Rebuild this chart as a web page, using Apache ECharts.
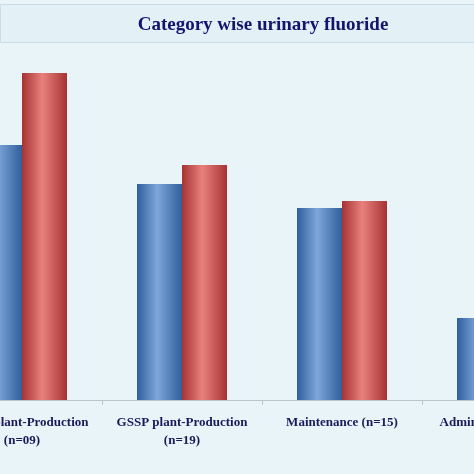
<!DOCTYPE html>
<html><head><meta charset="utf-8">
<script src="https://cdn.jsdelivr.net/npm/echarts@6/dist/echarts.min.js"></script>
<style>html,body{margin:0;padding:0;background:#fff}#c{width:474px;height:474px}</style>
</head><body><div id="c"></div>
<script>
var categories = ["CCPP plant-Production\n(n=09)", "GSSP plant-Production\n(n=19)", "Maintenance (n=15)", "Administration (n=10)"];
var blueValues = [2.55, 2.16, 1.92, 0.82];
var redValues = [3.27, 2.35, 1.99, 1.05];

function cyl(dark, light) {
  return new echarts.graphic.LinearGradient(0, 0, 1, 0, [
    { offset: 0, color: dark }, { offset: 0.45, color: light }, { offset: 1, color: dark }
  ]);
}

var chart = echarts.init(document.getElementById("c"));
chart.setOption({
  animation: false,
  backgroundColor: "#e9f4f8",
  graphic: [{
    type: "rect", left: 0, top: 4, shape: { width: 474, height: 38 },
    style: { fill: "#e3f0f6", stroke: "#c9dde6", lineWidth: 1 }
  }],
  title: {
    text: "Category wise urinary fluoride", left: 258, top: 11, textAlign: "center",
    textStyle: { fontFamily: "Liberation Serif", fontSize: 19, fontWeight: "bold", color: "#14146e" }
  },
  grid: { left: -58, right: -108, top: 50, bottom: 74, containLabel: false, outerBoundsMode: "none" },
  xAxis: {
    type: "category", data: categories,
    axisLine: { lineStyle: { color: "#b9c6cc" } },
    axisTick: { show: true, length: 5, lineStyle: { color: "#b9c6cc" } },
    axisLabel: {
      interval: 0, margin: 14, lineHeight: 18,
      fontFamily: "Liberation Serif", fontSize: 13, fontWeight: "bold", color: "#1a1a5a"
    }
  },
  yAxis: { type: "value", min: 0, max: 3.5, show: false, splitLine: { show: false } },
  series: [
    { type: "bar", data: blueValues, barWidth: 45, barGap: "0%", itemStyle: { color: cyl("#2f5f9e", "#7ea6d9") } },
    { type: "bar", data: redValues, barWidth: 45, itemStyle: { color: cyl("#a53333", "#e9807c") } }
  ]
});
</script></body></html>
